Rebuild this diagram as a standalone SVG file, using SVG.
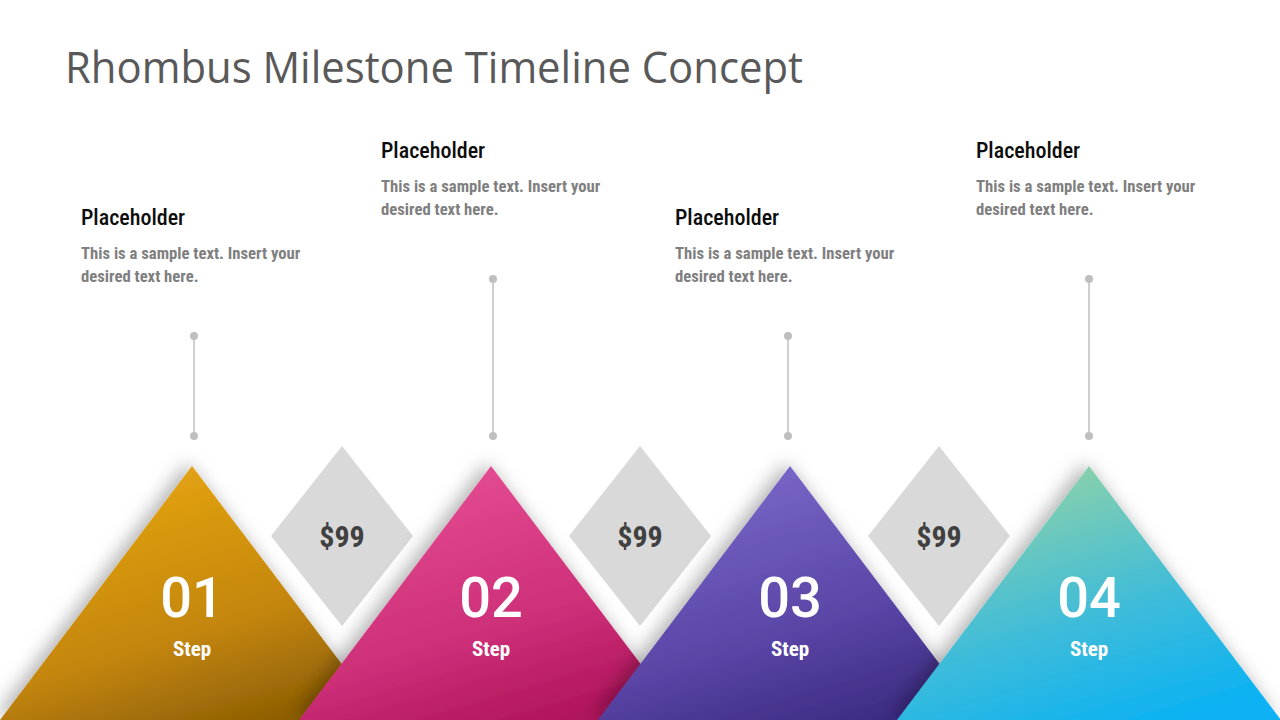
<svg xmlns="http://www.w3.org/2000/svg" width="1280" height="720" viewBox="0 0 1280 720">
<defs>
<style>
.title{font-family:"Open Sans","Liberation Sans",sans-serif;font-size:44px;fill:#595959}
.head{font-family:"Roboto Condensed","Liberation Sans Narrow","Liberation Sans",sans-serif;font-size:22px;font-weight:500;fill:#0d0d0d}
.body{font-family:"Roboto Condensed","Liberation Sans Narrow","Liberation Sans",sans-serif;font-size:16.7px;font-weight:bold;fill:#7f7f7f}
.num{font-family:Roboto,"Liberation Sans",sans-serif;font-size:56px;font-weight:500;fill:#ffffff;text-anchor:middle}
.step{font-family:"Roboto Condensed","Liberation Sans Narrow","Liberation Sans",sans-serif;font-size:21px;font-weight:bold;fill:#ffffff;text-anchor:middle}
.price{font-family:"Roboto Condensed","Liberation Sans Narrow","Liberation Sans",sans-serif;font-size:30px;font-weight:bold;fill:#404040;text-anchor:middle}
.dia{fill:#d9d9d9}
.ln{stroke:#bfbfbf;stroke-width:1.5;fill:none}
.dot{fill:#bfbfbf}
</style>
<filter id="sh" x="-30%" y="-30%" width="160%" height="160%">
<feDropShadow dx="-5" dy="-3" stdDeviation="9" flood-color="#000" flood-opacity="0.3"/>
</filter>
<linearGradient id="g1" x1="0.35" y1="0" x2="0.8" y2="1">
<stop offset="0" stop-color="#e5a413"/><stop offset="0.6" stop-color="#c4860c"/><stop offset="1" stop-color="#8a5c04"/>
</linearGradient>
<linearGradient id="g2" x1="0.35" y1="0" x2="0.8" y2="1">
<stop offset="0" stop-color="#e54d93"/><stop offset="0.6" stop-color="#cd2f78"/><stop offset="1" stop-color="#ad1259"/>
</linearGradient>
<linearGradient id="g3" x1="0.35" y1="0" x2="0.8" y2="1">
<stop offset="0" stop-color="#7b68c9"/><stop offset="0.6" stop-color="#5a45a6"/><stop offset="1" stop-color="#3b2a80"/>
</linearGradient>
<linearGradient id="g4" x1="0.35" y1="0" x2="0.8" y2="1">
<stop offset="0" stop-color="#8fd2a8"/><stop offset="0.55" stop-color="#3fbcd9"/><stop offset="1" stop-color="#08b1f4"/>
</linearGradient>
</defs>
<rect width="1280" height="720" fill="#ffffff"/>
<text class="title" x="65" y="83" textLength="738" lengthAdjust="spacingAndGlyphs">Rhombus Milestone Timeline Concept</text>

<g id="connectors">
<line class="ln" x1="194" y1="336" x2="194" y2="436"/><circle class="dot" cx="194" cy="336" r="4"/><circle class="dot" cx="194" cy="436" r="4"/>
<line class="ln" x1="493" y1="279" x2="493" y2="436"/><circle class="dot" cx="493" cy="279" r="4"/><circle class="dot" cx="493" cy="436" r="4"/>
<line class="ln" x1="788" y1="336" x2="788" y2="436"/><circle class="dot" cx="788" cy="336" r="4"/><circle class="dot" cx="788" cy="436" r="4"/>
<line class="ln" x1="1089" y1="279" x2="1089" y2="436"/><circle class="dot" cx="1089" cy="279" r="4"/><circle class="dot" cx="1089" cy="436" r="4"/>
</g>

<g id="text1">
<text class="head" x="81" y="225">Placeholder</text>
<text class="body" x="81" y="259">This is a sample text. Insert your</text>
<text class="body" x="81" y="282">desired text here.</text>
</g>
<g id="text2">
<text class="head" x="381" y="158">Placeholder</text>
<text class="body" x="381" y="192">This is a sample text. Insert your</text>
<text class="body" x="381" y="215">desired text here.</text>
</g>
<g id="text3">
<text class="head" x="675" y="225">Placeholder</text>
<text class="body" x="675" y="259">This is a sample text. Insert your</text>
<text class="body" x="675" y="282">desired text here.</text>
</g>
<g id="text4">
<text class="head" x="976" y="158">Placeholder</text>
<text class="body" x="976" y="192">This is a sample text. Insert your</text>
<text class="body" x="976" y="215">desired text here.</text>
</g>

<g id="diamond1"><polygon class="dia" points="342,446 413,536 342,626 271,536"/><text class="price" x="342" y="547">$99</text></g>
<g id="diamond2"><polygon class="dia" points="640,446 711,536 640,626 569,536"/><text class="price" x="640" y="547">$99</text></g>
<g id="diamond3"><polygon class="dia" points="939,446 1010,536 939,626 868,536"/><text class="price" x="939" y="547">$99</text></g>

<g id="step1"><polygon points="192,466 384,720 0,720" fill="url(#g1)" filter="url(#sh)"/><text class="num" x="192" y="617">01</text><text class="step" x="192" y="656">Step</text></g>
<g id="step2"><polygon points="491,466 683,720 299,720" fill="url(#g2)" filter="url(#sh)"/><text class="num" x="491" y="617">02</text><text class="step" x="491" y="656">Step</text></g>
<g id="step3"><polygon points="790,466 982,720 598,720" fill="url(#g3)" filter="url(#sh)"/><text class="num" x="790" y="617">03</text><text class="step" x="790" y="656">Step</text></g>
<g id="step4"><polygon points="1089,466 1281,720 897,720" fill="url(#g4)" filter="url(#sh)"/><text class="num" x="1089" y="617">04</text><text class="step" x="1089" y="656">Step</text></g>
</svg>
